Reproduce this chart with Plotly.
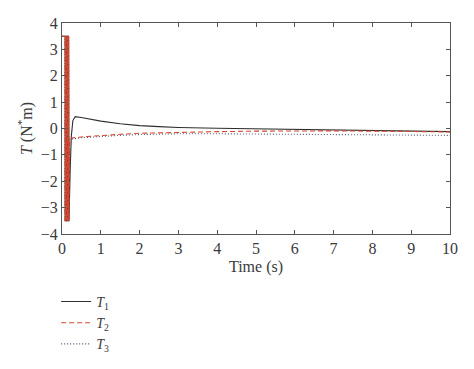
import plotly.graph_objects as go

# Chattering phase (shared switching instants), seconds / N*m
t_start = [0.0, 0.08]
v_start = [3.5, 3.5]
t_chat = [0.08, 0.09, 0.09, 0.10, 0.10, 0.11, 0.11, 0.12, 0.12, 0.13, 0.13, 0.14, 0.14, 0.15, 0.15, 0.16, 0.16, 0.17, 0.17, 0.18]
v_chat = [-3.5, -3.5, 3.5, 3.5, -3.5, -3.5, 3.5, 3.5, -3.5, -3.5, 3.5, 3.5, -3.5, -3.5, 3.5, 3.5, -3.5, -3.5, 3.5, -3.5]

# Post-chattering responses
t1_time = [0.18, 0.21, 0.24, 0.28, 0.34, 0.5, 0.75, 1.0, 1.5, 2.0, 2.5, 3.0, 4.0, 5.0, 6.0, 7.0, 8.0, 9.0, 10.0]
t1_vals = [-3.5, -1.6, -0.3, 0.3, 0.45, 0.42, 0.35, 0.28, 0.18, 0.11, 0.07, 0.04, 0.01, -0.01, -0.03, -0.05, -0.07, -0.09, -0.12]

t2_time = [0.18, 0.20, 0.25, 0.5, 1.0, 1.5, 2.0, 2.5, 3.0, 4.0, 5.0, 6.0, 7.0, 8.0, 9.0, 10.0]
t2_vals = [-3.5, -0.4, -0.36, -0.32, -0.26, -0.22, -0.18, -0.16, -0.14, -0.12, -0.1, -0.09, -0.09, -0.1, -0.11, -0.13]

t3_time = [0.18, 0.20, 0.25, 0.5, 1.0, 1.5, 2.0, 2.5, 3.0, 4.0, 5.0, 6.0, 7.0, 8.0, 9.0, 10.0]
t3_vals = [-3.5, -0.42, -0.4, -0.35, -0.3, -0.26, -0.23, -0.21, -0.2, -0.2, -0.21, -0.22, -0.23, -0.24, -0.25, -0.26]

x_ticks = list(range(0, 11))
y_ticks = list(range(-4, 5))

# drawing order: T3, T1, then T2 on top (legend order kept by legendrank)
series = [
    ("<i>T</i><sub>3</sub>", t3_time, t3_vals, "#4a5570", "1px,2px", 3),
    ("<i>T</i><sub>1</sub>", t1_time, t1_vals, "#2e2e2e", "solid", 1),
    ("<i>T</i><sub>2</sub>", t2_time, t2_vals, "#d2452e", "5px,3px", 2),
]

fig = go.Figure()
for name, tt, vv, col, dash, rank in series:
    xs = t_start + t_chat + tt[1:]
    ys = v_start + v_chat + vv[1:]
    fig.add_trace(go.Scatter(x=xs, y=ys, mode="lines", name=name, legendrank=rank,
                             line=dict(color=col, width=1.1, dash=dash)))

font = dict(family="Liberation Serif, Times New Roman, serif", size=16, color="#3a3a3a")
axis_common = dict(showline=True, linecolor="#555555", linewidth=1, mirror="ticks",
                   ticks="inside", ticklen=4, tickcolor="#555555", showgrid=False,
                   zeroline=False, tickfont=font)
fig.update_xaxes(range=[0, 10], tickvals=x_ticks,
                 title=dict(text="Time (s)", font=font, standoff=4), **axis_common)
fig.update_yaxes(range=[-4, 4], tickvals=y_ticks,
                 title=dict(text="<i>T</i> (N<sup>*</sup>m)", font=font, standoff=4), **axis_common)

# page body has an 8px default margin, so the figure is sized/offset to compensate
fig.update_layout(
    width=466, height=361,
    margin=dict(l=54, r=24, t=15, b=135, autoexpand=False),
    plot_bgcolor="white", paper_bgcolor="white",
    font=font,
    showlegend=True,
    legend=dict(x=-0.015, y=-0.246, xanchor="left", yanchor="top",
                itemwidth=30, bgcolor="rgba(0,0,0,0)",
                font=dict(family=font["family"], size=14, color="#3a3a3a"),
                tracegroupgap=0),
)

fig.write_html("out.html")
